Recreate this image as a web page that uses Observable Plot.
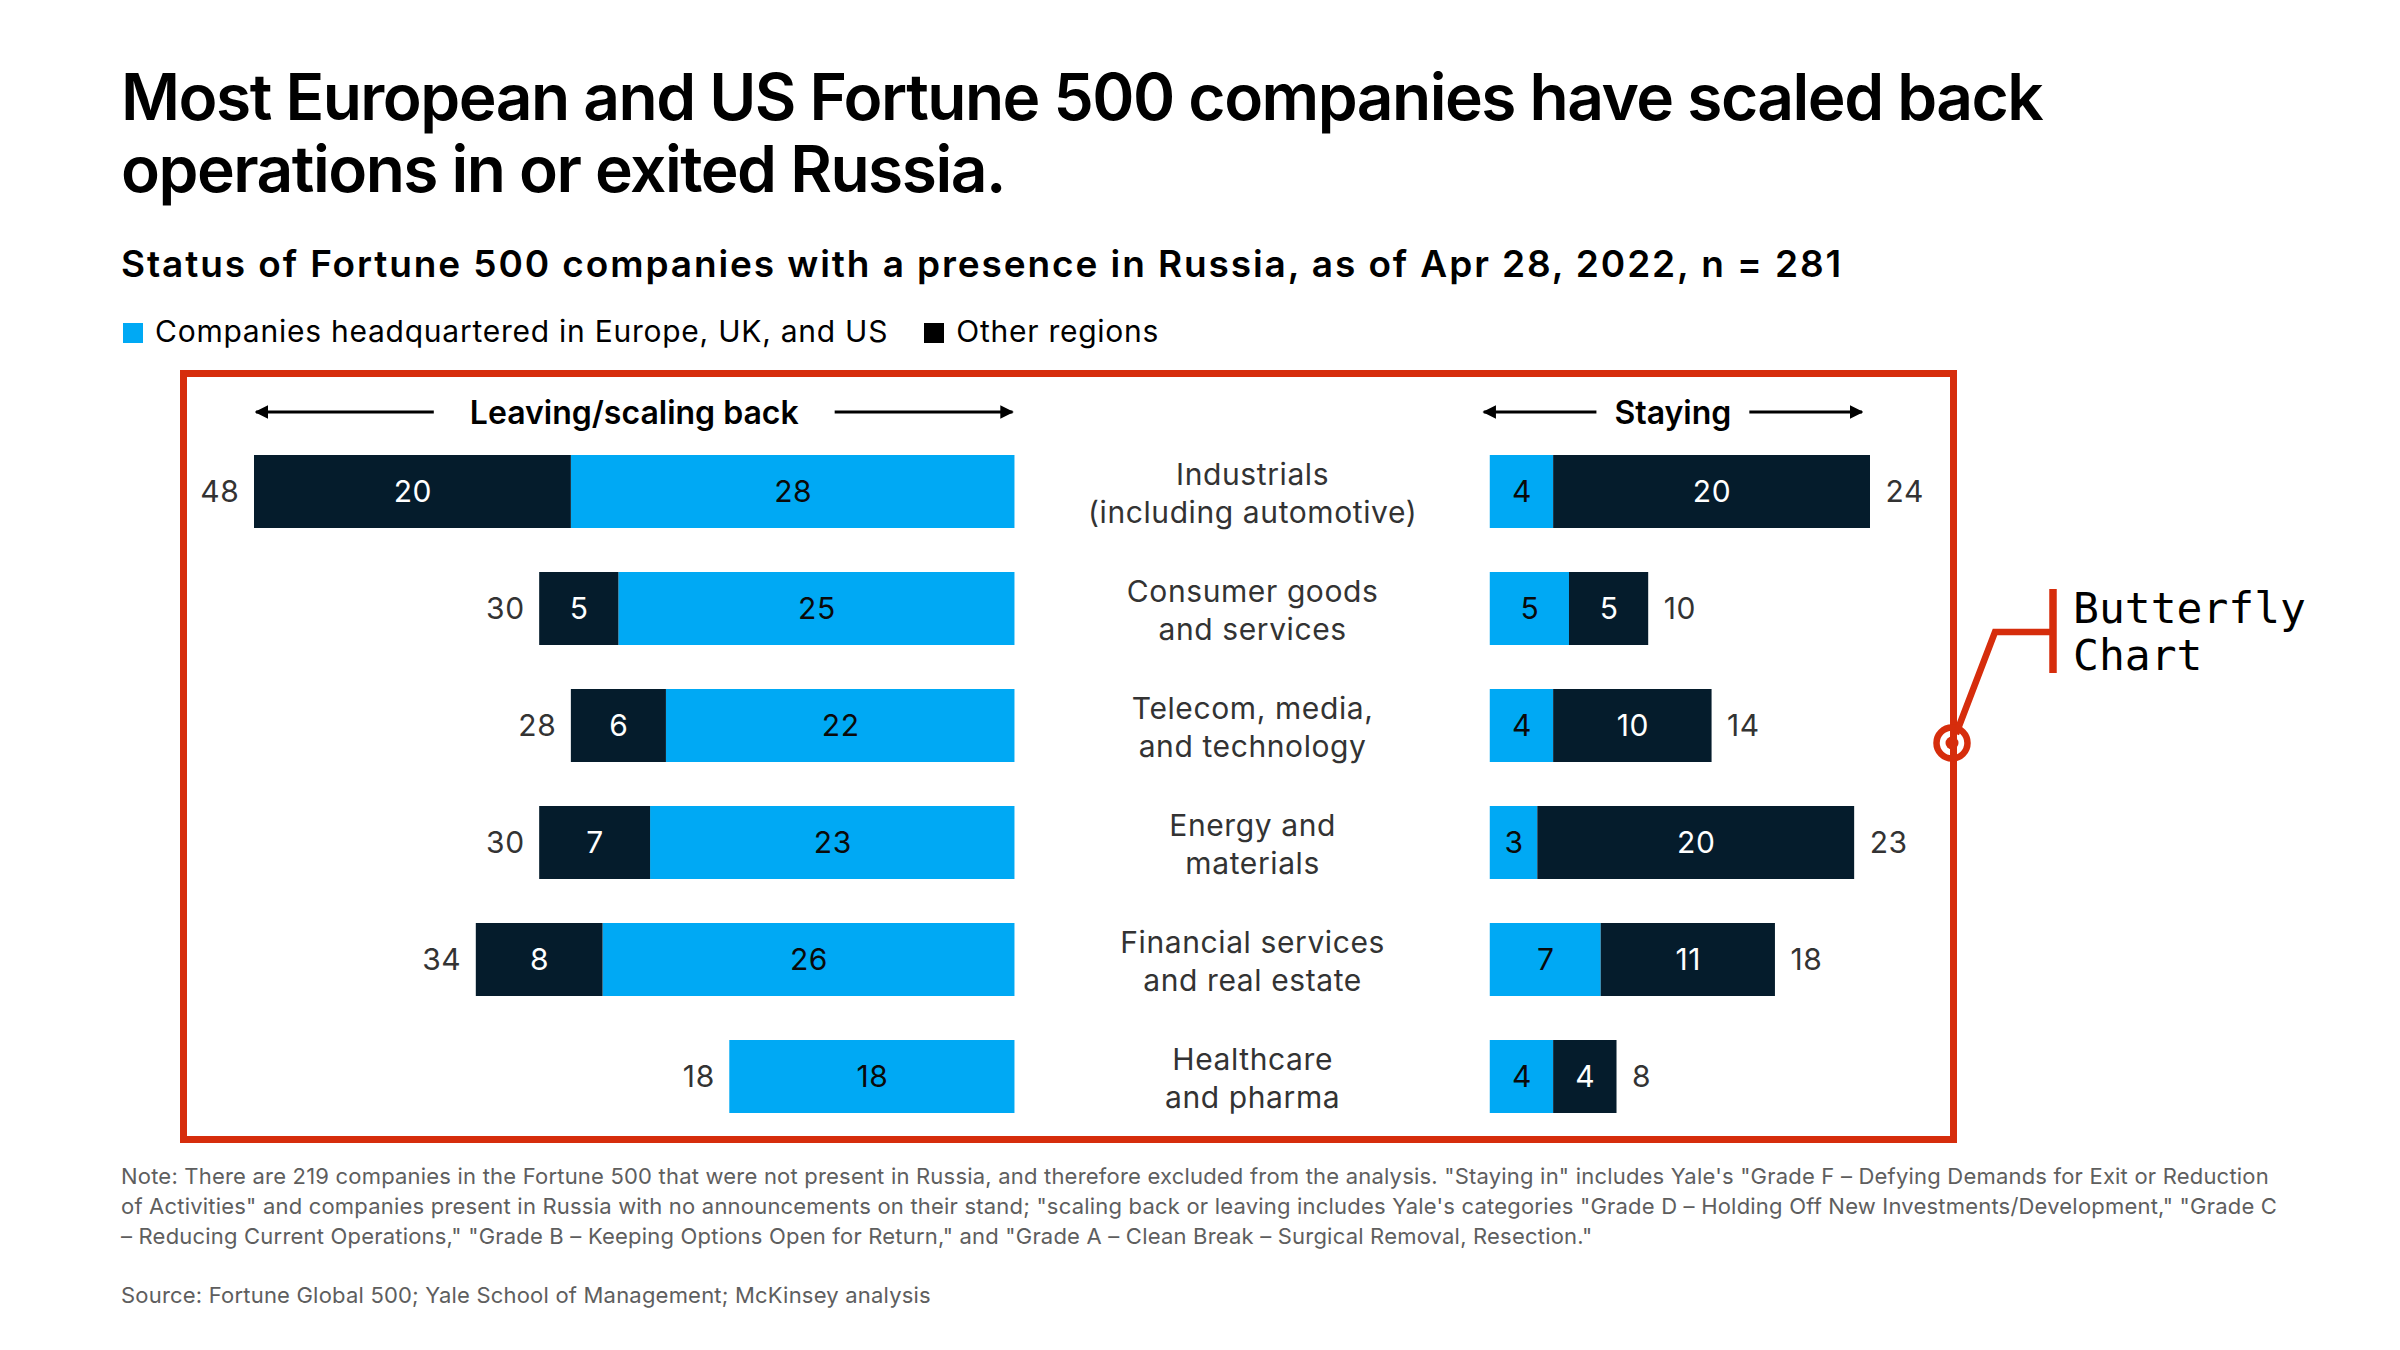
<!DOCTYPE html>
<html>
<head>
<meta charset="utf-8">
<script src="https://cdn.jsdelivr.net/npm/d3@7"></script>
<script src="https://cdn.jsdelivr.net/npm/@observablehq/plot@0.6"></script>
<style>
  html, body { margin: 0; padding: 0; background: #fff; }
  #page { position: relative; width: 2400px; height: 1350px; overflow: hidden; font-family: Inter, "Noto Sans", sans-serif; }
  .abs { position: absolute; white-space: nowrap; }
  #title { left: 121px; top: 61px; font-size: 64px; line-height: 72px; font-weight: 600; color: #000; letter-spacing: -1.5px; }
  #subtitle { left: 121px; top: 242px; font-size: 37px; line-height: 44px; font-weight: 600; color: #000; letter-spacing: 1.9px; }
  #legend { left: 123px; top: 313px; font-size: 30px; line-height: 36px; color: #000; letter-spacing: 0.75px; }
  #legend .sw { display: inline-block; width: 20px; height: 20px; margin-right: 12px; vertical-align: -1px; }
  #legend .item { margin-right: 36px; }
  #note { left: 121px; top: 1161px; font-size: 22px; line-height: 30px; color: #5e5e5e; letter-spacing: 0.2px; }
  #source { left: 121px; top: 1280px; font-size: 22px; line-height: 30px; color: #5e5e5e; letter-spacing: 0.2px; }
  #chart { position: absolute; left: 0; top: 372px; }
  #overlay { position: absolute; left: 0; top: 0; pointer-events: none; }
</style>
</head>
<body>
<div id="page">
  <div id="title" class="abs"></div>
  <div id="subtitle" class="abs"></div>
  <div id="legend" class="abs"></div>
  <div id="chart"></div>
  <div id="note" class="abs"></div>
  <div id="source" class="abs"></div>
  <svg id="overlay" width="2400" height="1350"></svg>
</div>
<script>
// ---------- data ----------
const titleLines = ["Most European and US Fortune 500 companies have scaled back", "operations in or exited Russia."];
const subtitle = "Status of Fortune 500 companies with a presence in Russia, as of Apr 28, 2022, n = 281";
const regions = ["Companies headquartered in Europe, UK, and US", "Other regions"];
const sides = ["Leaving/scaling back", "Staying"];
const categories = [
  "Industrials\n(including automotive)",
  "Consumer goods\nand services",
  "Telecom, media,\nand technology",
  "Energy and\nmaterials",
  "Financial services\nand real estate",
  "Healthcare\nand pharma"
];
const leavingEU = [28, 25, 22, 23, 26, 18];
const leavingOther = [20, 5, 6, 7, 8, 0];
const stayingEU = [4, 5, 4, 3, 7, 4];
const stayingOther = [20, 5, 10, 20, 11, 4];
const noteLines = [
  "Note: There are 219 companies in the Fortune 500 that were not present in Russia, and therefore excluded from the analysis. \"Staying in\" includes Yale's \"Grade F – Defying Demands for Exit or Reduction",
  "of Activities\" and companies present in Russia with no announcements on their stand; \"scaling back or leaving includes Yale's categories \"Grade D – Holding Off New Investments/Development,\" \"Grade C",
  "– Reducing Current Operations,\" \"Grade B – Keeping Options Open for Return,\" and \"Grade A – Clean Break – Surgical Removal, Resection.\""
];
const sourceText = "Source: Fortune Global 500; Yale School of Management; McKinsey analysis";
const annotationLines = ["Butterfly", "Chart"];

// ---------- style constants ----------
const BLUE = "#00a9f4", NAVY = "#051c2c", RED = "#d62d0c";
const GAP = 15; // half gap (in data units) between the two wings, holds category labels

// ---------- text blocks ----------
document.getElementById("title").innerHTML = titleLines.join("<br>");
document.getElementById("subtitle").textContent = subtitle;
document.getElementById("legend").innerHTML = regions.map((r, i) =>
  `<span class="item"><span class="sw" style="background:${i === 0 ? BLUE : "#000"}"></span>${r}</span>`).join("");
document.getElementById("note").innerHTML = noteLines.map(s => s.replace(/&/g,"&amp;").replace(/</g,"&lt;")).join("<br>");
document.getElementById("source").textContent = sourceText;

// ---------- build segments ----------
const segs = [];
categories.forEach((c, i) => {
  const le = leavingEU[i], lo = leavingOther[i], se = stayingEU[i], so = stayingOther[i];
  segs.push({cat: c, region: regions[0], value: le, x1: -GAP, x2: -GAP - le});
  segs.push({cat: c, region: regions[1], value: lo, x1: -GAP - le, x2: -GAP - le - lo});
  segs.push({cat: c, region: regions[0], value: se, x1: GAP, x2: GAP + se});
  segs.push({cat: c, region: regions[1], value: so, x1: GAP + se, x2: GAP + se + so});
});
const leftTotals = categories.map((c, i) => ({cat: c, total: leavingEU[i] + leavingOther[i]}));
const rightTotals = categories.map((c, i) => ({cat: c, total: stayingEU[i] + stayingOther[i]}));
const maxLeft = d3.max(leftTotals, d => d.total);
const maxRight = d3.max(rightTotals, d => d.total);

const plot = Plot.plot({
  width: 2400,
  height: 771,
  marginTop: 60.5,
  marginBottom: 8.5,
  marginLeft: 254,
  marginRight: 530,
  style: {fontFamily: "Inter, 'Noto Sans', sans-serif", background: "transparent", letterSpacing: "0.6px"},
  x: {domain: [-GAP - maxLeft, GAP + maxRight], axis: null},
  y: {domain: categories, padding: 0, axis: null},
  color: {domain: regions, range: [BLUE, NAVY]},
  marks: [
    Plot.barX(segs.filter(d => d.value > 0), {x1: "x1", x2: "x2", y: "cat", fill: "region", insetTop: 22, insetBottom: 22}),
    Plot.text(segs.filter(d => d.value > 0), {
      x: d => (d.x1 + d.x2) / 2, y: "cat", text: d => String(d.value),
      fill: d => d.region === regions[0] ? "#0a0a0a" : "#ffffff", fontSize: 30
    }),
    Plot.text(leftTotals, {x: d => -GAP - d.total, y: "cat", text: d => String(d.total), textAnchor: "end", dx: -15, fill: "#333", fontSize: 30}),
    Plot.text(rightTotals, {x: d => GAP + d.total, y: "cat", text: d => String(d.total), textAnchor: "start", dx: 15, fill: "#333", fontSize: 30}),
    Plot.text(categories, {x: 0, y: d => d, text: d => d, lineHeight: 1.25, fill: "#333", fontSize: 30})
  ]
});
document.getElementById("chart").appendChild(plot);

// ---------- overlay: headers with arrows, red box, annotation ----------
const xs = plot.scale("x");
const ov = d3.select("#overlay");
const defs = ov.append("defs");
defs.append("marker").attr("id", "ah").attr("viewBox", "0 0 10 10").attr("refX", 9).attr("refY", 5)
  .attr("markerWidth", 4.5).attr("markerHeight", 4.5).attr("orient", "auto-start-reverse")
  .append("path").attr("d", "M0,0 L10,5 L0,10 z").attr("fill", "#000");

const headerY = 412;
const headers = [
  {label: sides[0], a: xs.apply(-GAP - maxLeft), b: xs.apply(-GAP), gap: 36},
  {label: sides[1], a: xs.apply(GAP) - 8, b: xs.apply(GAP + maxRight) - 6, gap: 18}
];
headers.forEach(h => {
  const cx = (h.a + h.b) / 2;
  const t = ov.append("text").attr("x", cx).attr("y", headerY).attr("text-anchor", "middle")
    .attr("dominant-baseline", "central").attr("font-family", "Inter, sans-serif").attr("font-weight", 600)
    .attr("font-size", 32).attr("fill", "#000").text(h.label);
  const w = t.node().getComputedTextLength();
  ov.append("line").attr("x1", cx - w / 2 - h.gap).attr("x2", h.a + 2).attr("y1", headerY).attr("y2", headerY)
    .attr("stroke", "#000").attr("stroke-width", 3).attr("marker-end", "url(#ah)");
  ov.append("line").attr("x1", cx + w / 2 + h.gap).attr("x2", h.b - 2).attr("y1", headerY).attr("y2", headerY)
    .attr("stroke", "#000").attr("stroke-width", 3).attr("marker-end", "url(#ah)");
});

// red highlight box
ov.append("rect").attr("x", 183.5).attr("y", 373.5).attr("width", 1770).attr("height", 766)
  .attr("fill", "none").attr("stroke", RED).attr("stroke-width", 7);
// connector
ov.append("circle").attr("cx", 1952).attr("cy", 743).attr("r", 15.5).attr("fill", "#fff").attr("stroke", RED).attr("stroke-width", 6.5);
ov.append("line").attr("x1", 1953.5).attr("x2", 1953.5).attr("y1", 726).attr("y2", 760).attr("stroke", RED).attr("stroke-width", 7);
ov.append("circle").attr("cx", 1952).attr("cy", 743).attr("r", 6.5).attr("fill", RED);
ov.append("polyline").attr("points", "1956,734 1995,632 2052,632").attr("fill", "none").attr("stroke", RED).attr("stroke-width", 6.5);
ov.append("line").attr("x1", 2053).attr("x2", 2053).attr("y1", 589).attr("y2", 673).attr("stroke", RED).attr("stroke-width", 7.5);
annotationLines.forEach((s, i) => {
  ov.append("text").attr("x", 2073).attr("y", 623 + i * 47).attr("font-family", "'DejaVu Sans Mono', monospace")
    .attr("font-size", 43).attr("fill", "#000").text(s);
});
</script>
</body>
</html>
